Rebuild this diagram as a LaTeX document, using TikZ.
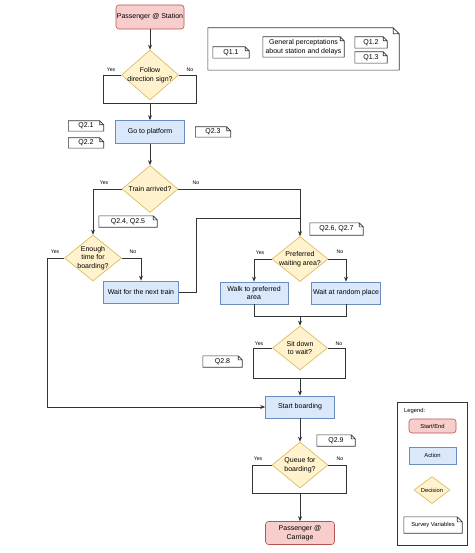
\documentclass[tikz,border=0pt]{standalone}
\usepackage{fontspec}
\setmainfont{Liberation Sans}
\usepackage{xcolor}
\definecolor{f8cecc}{HTML}{f8cecc}
\definecolor{b85450}{HTML}{b85450}
\definecolor{dae8fc}{HTML}{dae8fc}
\definecolor{c6c8ebf}{HTML}{6c8ebf}
\definecolor{fff2cc}{HTML}{fff2cc}
\definecolor{d6b656}{HTML}{d6b656}
\definecolor{c333333}{HTML}{333333}
\usepackage{tikz}
\usetikzlibrary{shapes.geometric}
\usetikzlibrary{arrows.meta}

\begin{document}
\begin{tikzpicture}[x=1pt, y=-1pt,
        every node/.style={font=\fontsize{7}{8.5}\selectfont, inner sep=0pt},
        startend/.style={draw=b85450, fill=f8cecc, rounded corners=3pt, align=center, line width=.6pt},
        action/.style={draw=c6c8ebf, fill=dae8fc, align=center, line width=.6pt},
        decision/.style={diamond, draw=d6b656, fill=fff2cc, line width=.6pt},
        dtext/.style={align=center},
        note/.style={align=center},
        yn/.style={font=\fontsize{5.2}{6}\selectfont},
        small/.style={font=\fontsize{5.8}{7}\selectfont},
        flow/.style={draw=c333333, line width=.7pt},
        arrow/.style={flow, -{Stealth[length=5pt, width=4pt]}}
    ]
            \useasboundingbox (0, 0) rectangle (474, 553);

            % main flow
            \node (start) at (150, 17) [startend, minimum width=68, minimum height=24] {Passenger @ Station};
            \node (dir) at (150, 75) [decision, minimum width=57, minimum height=50,
                label={[dtext]center:Follow\\direction sign?}] {};
            \node (plat) at (150, 132) [action, minimum width=69, minimum height=23] {Go to platform};
            \node (train) at (150, 189) [decision, minimum width=56, minimum height=47,
                label={[dtext]center:Train arrived?}] {};
            \node (enough) at (93, 258) [decision, minimum width=57, minimum height=46,
                label={[dtext]center:Enough\\time for\\boarding?}] {};
            \node (wait) at (141, 292) [action, minimum width=75, minimum height=22] {Wait for the next train};
            \node (pref) at (300, 259) [decision, minimum width=56, minimum height=45,
                label={[dtext]center:Preferred\\waiting area?}] {};
            \node (walk) at (254, 293) [action, minimum width=68, minimum height=22] {Walk to preferred\\area};
            \node (rand) at (346, 293) [action, minimum width=69, minimum height=22] {Wait at random place};
            \node (sit) at (300, 348) [decision, minimum width=55, minimum height=44,
                label={[dtext]center:Sit down\\to wait?}] {};
            \node (board) at (300, 407) [action, minimum width=69, minimum height=22] {Start boarding};
            \node (queue) at (300, 465) [decision, minimum width=56, minimum height=46,
                label={[dtext]center:Queue for\\boarding?}] {};
            \node (end) at (300, 533) [startend, minimum width=69, minimum height=23] {Passenger @\\Carriage};

            % survey variables
            \node (perc) at (303.5, 49) [minimum width=191, minimum height=42] {};
            \node (q11) at (231, 52.5) [note, minimum width=36, minimum height=11] {Q1.1};
            \node (gen) at (303.5, 47) [note, minimum width=81, minimum height=20] {General perceptations\\about station and delays};
            \node (q12) at (371, 42.5) [note, minimum width=32, minimum height=11] {Q1.2};
            \node (q13) at (371, 57.5) [note, minimum width=32, minimum height=11] {Q1.3};
            \node (q21) at (86, 126) [note, minimum width=35, minimum height=10] {Q2.1};
            \node (q22) at (86, 143) [note, minimum width=35, minimum height=10] {Q2.2};
            \node (q23) at (213, 132) [note, minimum width=35, minimum height=10] {Q2.3};
            \node (q245) at (128, 221.5) [note, minimum width=58, minimum height=11] {Q2.4, Q2.5};
            \node (q267) at (336.5, 229) [note, minimum width=53, minimum height=12] {Q2.6, Q2.7};
            \node (q28) at (222.5, 361.5) [note, minimum width=39, minimum height=11] {Q2.8};
            \node (q29) at (336, 440.5) [note, minimum width=38, minimum height=11] {Q2.9};

            % legend
            \node (legend) at (432, 473.5) [draw=c333333, line width=.6pt, minimum width=70, minimum height=143] {};
            \node (leg) at (404, 411) [small, anchor=west] {Legend:};
            \node (lse) at (432.5, 426) [startend, small, minimum width=47, minimum height=14] {Start/End};
            \node (lact) at (432.5, 455.5) [action, small, minimum width=47, minimum height=17] {Action};
            \node (ldec) at (432, 490) [decision, minimum width=36, minimum height=27,
                label={[small]center:Decision}] {};
            \node (sv) at (433, 525) [note, small, minimum width=58, minimum height=16] {Survey Variables};

            % folded corners
            \foreach \n/\s in {perc/6, q11/4, gen/4, q12/4, q13/4, q21/4, q22/4, q23/4, q245/4, q267/4, q28/4, q29/4, sv/5} {
                \draw[draw=c333333, line width=.6pt]
                    (\n.south west) -- (\n.north west) -- ([xshift=-\s pt]\n.north east)
                    -- ([yshift=-\s pt]\n.north east) -- (\n.south east) -- cycle
                    ([xshift=-\s pt]\n.north east) -- ([xshift=-\s pt, yshift=-\s pt]\n.north east)
                    -- ([yshift=-\s pt]\n.north east);
            }

            % junctions
            \coordinate (dirbot) at (150, 103);
            \coordinate (back) at (300, 218);
            \coordinate (prefbot) at (300, 316);
            \coordinate (sitbot) at (300, 378);
            \coordinate (queuebot) at (300, 493);

            % connectors
            \draw[arrow] (start) to (dir);
            \draw[flow] (dir.west) -- ++(-18, 0) |- (dirbot);
            \draw[flow] (dir.east) -- ++(18, 0) |- (dirbot);
            \draw[arrow] (dirbot) to (plat);
            \draw[arrow] (plat) to (train);
            \draw[arrow] (train.west) -| (enough.north);
            \draw[arrow] (train.east) -| (pref.north);
            \draw[arrow] (enough.east) -| (wait.north);
            \draw[flow] (wait.east) -- ++(18, 0) |- (back);
            \draw[arrow] (enough.west) -- ++(-17, 0) |- (board.west);
            \draw[arrow] (pref.west) -| (walk.north);
            \draw[arrow] (pref.east) -| (rand.north);
            \draw[flow] (walk.south) |- (prefbot);
            \draw[flow] (rand.south) |- (prefbot);
            \draw[arrow] (prefbot) to (sit);
            \draw[flow] (sit.west) -- ++(-19, 0) |- (sitbot);
            \draw[flow] (sit.east) -- ++(18, 0) |- (sitbot);
            \draw[arrow] (sitbot) to (board);
            \draw[arrow] (board) to (queue);
            \draw[flow] (queue.west) -- ++(-19, 0) |- (queuebot);
            \draw[flow] (queue.east) -- ++(18, 0) |- (queuebot);
            \draw[arrow] (queuebot) to (end);

            % yes / no
            \node (y1) at (111, 70) [yn] {Yes};
            \node (n1) at (190, 70) [yn] {No};
            \node (y2) at (104, 183) [yn] {Yes};
            \node (n2) at (196, 183) [yn] {No};
            \node (y3) at (55, 252) [yn] {Yes};
            \node (n3) at (133, 252) [yn] {No};
            \node (y4) at (260, 253) [yn] {Yes};
            \node (n4) at (340, 252) [yn] {No};
            \node (y5) at (259, 344) [yn] {Yes};
            \node (n5) at (339, 344) [yn] {No};
            \node (y6) at (258, 459) [yn] {Yes};
            \node (n6) at (340, 459) [yn] {No};
        \end{tikzpicture}
\end{document}
